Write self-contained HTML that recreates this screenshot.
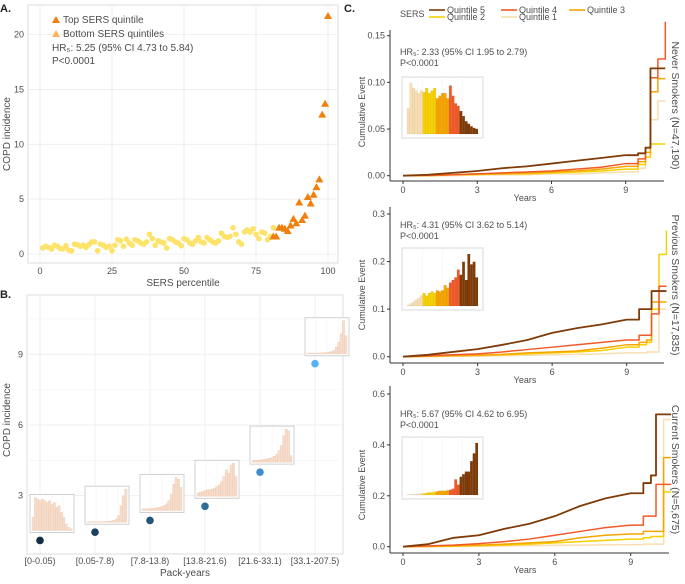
<!DOCTYPE html>
<html><head><meta charset="utf-8"><style>
body{margin:0;background:#fff;font-family:"Liberation Sans",Arial,sans-serif;}
svg text{font-family:"Liberation Sans",Arial,sans-serif;}
</style></head><body>
<svg id="fig" width="685" height="579" viewBox="0 0 685 579" xmlns="http://www.w3.org/2000/svg">
<rect width="685" height="579" fill="#fff"/>
<text x="0" y="12" font-size="11" font-weight="bold" fill="#222">A.</text>
<text x="0" y="298" font-size="11" font-weight="bold" fill="#222">B.</text>
<text x="344" y="12" font-size="11" font-weight="bold" fill="#222">C.</text>
<g id="pa"></g>
<g id="pb"></g>
<g id="pc"></g>
</svg>
<script>
// ---------- Panel A data ----------
const aBottom = [0.55,0.7,0.6,0.45,0.8,0.7,0.5,0.45,0.75,0.35,0.3,0.9,0.85,0.7,0.8,0.6,0.85,1.1,1.1,0.3,0.9,0.8,0.6,0.7,0.3,0.8,1.3,1.2,0.7,1.35,1.0,0.8,1.3,1.2,1.0,0.9,1.1,1.8,1.4,0.8,1.2,1.1,1.0,0.55,1.4,1.3,1.1,1.0,0.75,1.4,1.3,1.0,0.9,1.2,1.5,1.1,1.0,1.5,1.3,1.1,1.0,1.2,1.9,1.6,1.5,1.6,2.4,1.8,1.1,0.9,2.0,2.2,2.0,2.3,1.8,1.4,2.0,1.9,1.3,1.6,2.4];
const aTop = [1.6,1.6,2.4,2.4,2.3,2.1,2.6,3.2,2.8,4.7,3.1,3.5,5.2,4.6,5.4,6.1,6.8,12.7,13.7,21.7];
const aYTicks=[0,5,10,15,20];
const aXTicks=[0,25,50,75,100];
// ---------- Panel B data ----------
const bCats=["[0-0.05)","[0.05-7.8)","[7.8-13.8)","[13.8-21.6)","[21.6-33.1)","[33.1-207.5)"];
const bVals=[1.1,1.45,1.95,2.55,4.0,8.6];
const bColors=["#132b43","#1d3f5f","#255577","#2f6c99","#3f8fd0","#56b1f7"];
const bYTicks=[3,6,9];
const bHist=[
 [0.4,1,0.95,0.9,0.95,0.9,0.85,0.9,0.8,0.85,0.7,0.75,0.55,0.4,0.2,0.1,0.05],
 [0.02,0.02,0.02,0.02,0.02,0.02,0.02,0.02,0.03,0.03,0.04,0.06,0.1,0.2,0.5,0.8,1],
 [0.05,0.05,0.05,0.06,0.06,0.07,0.08,0.1,0.12,0.15,0.2,0.3,0.5,0.8,1,0.95,0.7],
 [0.1,0.12,0.15,0.18,0.2,0.2,0.22,0.25,0.3,0.35,0.45,0.6,0.8,0.7,0.95,1,0.6],
 [0.05,0.06,0.06,0.07,0.08,0.09,0.1,0.12,0.14,0.18,0.24,0.35,0.5,0.8,1,0.95,0.2],
 [0.02,0.02,0.02,0.02,0.02,0.02,0.03,0.03,0.04,0.05,0.07,0.1,0.2,0.35,0.6,1,0.55]
];
// ---------- Panel C data ----------
const cTimes=[0,1,2,3,4,5,6,7,8,9,9.5,9.8,10,10.3,10.6];
const cNames=["Quintile 5","Quintile 4","Quintile 3","Quintile 2","Quintile 1"];
const cColors=["#7f3b08","#f05a28","#f5a400","#f7d000","#f8deb0"];
const cNever=[
 [0,0.001,0.003,0.005,0.008,0.010,0.013,0.016,0.019,0.022,0.024,0.03,0.115,0.115,0.115],
 [0,0.0005,0.001,0.002,0.003,0.004,0.005,0.007,0.009,0.013,0.018,0.03,0.105,0.125,0.165],
 [0,0,0.001,0.002,0.002,0.003,0.004,0.005,0.007,0.010,0.015,0.025,0.09,0.104,0.104],
 [0,0,0.001,0.001,0.002,0.002,0.003,0.004,0.005,0.007,0.012,0.02,0.034,0.034,0.034],
 [0,0,0,0.001,0.001,0.001,0.002,0.002,0.003,0.004,0.008,0.02,0.06,0.08,0.08]];
const cPrev=[
 [0,0.004,0.010,0.016,0.025,0.035,0.050,0.060,0.068,0.078,0.10,0.10,0.138,0.138,0.138],
 [0,0.002,0.004,0.006,0.010,0.015,0.020,0.025,0.030,0.035,0.045,0.045,0.09,0.148,0.148],
 [0,0.001,0.002,0.003,0.005,0.008,0.010,0.012,0.018,0.025,0.030,0.035,0.115,0.115,0.115],
 [0,0.001,0.002,0.003,0.004,0.006,0.008,0.010,0.013,0.020,0.025,0.03,0.10,0.215,0.265],
 [0,0,0.001,0.001,0.002,0.003,0.004,0.005,0.006,0.008,0.008,0.01,0.01,0.10,0.10]];
const cCurr=[
 [0,0.01,0.035,0.045,0.07,0.09,0.12,0.16,0.19,0.21,0.25,0.28,0.52,0.52,0.52],
 [0,0.003,0.006,0.012,0.02,0.03,0.045,0.06,0.075,0.085,0.12,0.12,0.245,0.245,0.245],
 [0,0.002,0.004,0.006,0.01,0.015,0.02,0.035,0.045,0.05,0.06,0.06,0.06,0.35,0.35],
 [0,0.001,0.002,0.004,0.006,0.01,0.015,0.02,0.025,0.03,0.035,0.04,0.04,0.215,0.215],
 [0,0,0.001,0.002,0.003,0.004,0.005,0.006,0.007,0.008,0.01,0.01,0.01,0.5,0.5]];
const insetNever=[0.5,1,0.9,0.85,0.8,0.85,0.82,0.9,0.8,0.85,0.9,0.7,0.75,0.8,0.8,0.7,0.95,0.75,0.6,0.55,0.45,0.35,0.25,0.2,0.15,0.12,0.1];
const insetPrev=[0.02,0.05,0.08,0.12,0.15,0.2,0.25,0.2,0.25,0.28,0.25,0.3,0.28,0.3,0.4,0.35,0.45,0.5,0.55,0.7,0.6,0.85,0.5,1,0.8,0.85,0.55];
const insetCurr=[0.01,0.01,0.01,0.02,0.02,0.03,0.03,0.04,0.05,0.05,0.06,0.07,0.08,0.08,0.08,0.09,0.1,0.12,0.3,0.2,0.35,0.4,0.45,0.45,0.65,0.8,1];
const insetBinColor=[4,4,4,4,4,4,3,3,3,3,3,2,2,2,2,2,1,1,1,1,0,0,0,0,0,0,0];

const NS="http://www.w3.org/2000/svg";
function mk(parent,tag,attrs,text){const e=document.createElementNS(NS,tag);for(const k in attrs)e.setAttribute(k,attrs[k]);if(text!==undefined)e.textContent=text;parent.appendChild(e);return e;}

// ===== Panel A =====
(function(){
 const g=document.getElementById('pa');
 const X=v=>40+v*2.88, Y=v=>254-v*10.97;
 mk(g,'rect',{x:28,y:5,width:310,height:258,fill:'#fff',stroke:'#dcdcdc','stroke-width':1});
 for(const t of aYTicks){mk(g,'line',{x1:28,x2:338,y1:Y(t),y2:Y(t),stroke:'#ebebeb','stroke-width':0.8});
  const tl=mk(g,'text',{x:24,y:Y(t)+3,'font-size':9,fill:'#4d4d4d','text-anchor':'end'},String(t));
  }
 for(const t of aXTicks){mk(g,'line',{x1:X(t),x2:X(t),y1:5,y2:263,stroke:'#ebebeb','stroke-width':0.8});
  const tl=mk(g,'text',{x:X(t),y:274,'font-size':9,fill:'#4d4d4d','text-anchor':'middle'},String(t));
  }
 aBottom.forEach((v,i)=>{const c=mk(g,'circle',{cx:X(i+1),cy:Y(v),r:2.8,fill:'#fde36a'});
  });
 aTop.forEach((v,i)=>{const x=X(i+81),y=Y(v);const p=mk(g,'polygon',{points:`${x},${y-4} ${x-4},${y+3} ${x+4},${y+3}`,fill:'#f07f0c'});
  });
 const l1=mk(g,'polygon',{points:'56,16 52,23 60,23',fill:'#f07f0c'});
 const l2=mk(g,'polygon',{points:'56,30 52,37 60,37',fill:'#fbb45c'});
 const t1=mk(g,'text',{x:63,y:23,'font-size':10,fill:'#4d4d4d'},'Top SERS quintile');
 const t2=mk(g,'text',{x:63,y:37,'font-size':10,fill:'#4d4d4d'},'Bottom SERS quintiles');
 const t3=mk(g,'text',{x:52,y:51,'font-size':10,fill:'#4d4d4d'},'HR₅: 5.25 (95% CI 4.73 to 5.84)');
 const t4=mk(g,'text',{x:52,y:64,'font-size':10,fill:'#4d4d4d'},'P<0.0001');
 const xt=mk(g,'text',{x:183,y:286,'font-size':10,fill:'#4d4d4d','text-anchor':'middle'},'SERS percentile');
 const yt=mk(g,'text',{x:0,y:0,'font-size':10,fill:'#4d4d4d','text-anchor':'middle',transform:'translate(10,134) rotate(-90)'},'COPD incidence');
})();

// ===== Panel B =====
(function(){
 const g=document.getElementById('pb');
 const X=i=>40+i*55, Y=v=>495.7-(v-3)*23.57;
 mk(g,'rect',{x:27,y:295,width:316,height:259,fill:'#fff',stroke:'#dcdcdc','stroke-width':1});
 for(const t of bYTicks){mk(g,'line',{x1:27,x2:343,y1:Y(t),y2:Y(t),stroke:'#ebebeb','stroke-width':0.8});
  mk(g,'line',{x1:27,x2:343,y1:Y(t+1.5),y2:Y(t+1.5),stroke:'#f3f3f3','stroke-width':0.6});
  const tl=mk(g,'text',{x:23,y:Y(t)+3,'font-size':9,fill:'#4d4d4d','text-anchor':'end'},String(t));
  }
 bCats.forEach((c,i)=>{mk(g,'line',{x1:X(i),x2:X(i),y1:295,y2:554,stroke:'#ebebeb','stroke-width':0.8});
  const tl=mk(g,'text',{x:X(i),y:564,'font-size':9,fill:'#4d4d4d','text-anchor':'middle'},c);
  });
 bVals.forEach((v,i)=>{
  const cx=X(i),cy=Y(v);
  const bx=cx-10,by=cy-46,bw=44,bh=38;
  const box=mk(g,'rect',{x:bx,y:by,width:bw,height:bh,fill:'#fff',stroke:'#d0d0d0','stroke-width':1});
  
  for(let k=1;k<4;k++){mk(g,'line',{x1:bx+k*bw/4,x2:bx+k*bw/4,y1:by,y2:by+bh,stroke:'#f0f0f0','stroke-width':0.5});}
  const h=bHist[i],n=h.length,w=(bw-4)/n;
  h.forEach((hv,j)=>{const r=mk(g,'rect',{x:bx+2+j*w,y:by+bh-2-hv*(bh-5),width:w,height:hv*(bh-5),fill:'#f5dccb',stroke:'#eec3a8','stroke-width':0.3});
   });
  const p=mk(g,'circle',{cx:cx,cy:cy,r:3.8,fill:bColors[i]});
  
 });
 const xt=mk(g,'text',{x:185,y:576,'font-size':10,fill:'#4d4d4d','text-anchor':'middle'},'Pack-years');
 const yt=mk(g,'text',{x:0,y:0,'font-size':10,fill:'#4d4d4d','text-anchor':'middle',transform:'translate(10,420) rotate(-90)'},'COPD incidence');
})();

// ===== Panel C =====
(function(){
 const g=document.getElementById('pc');
 const lt=mk(g,'text',{x:400,y:17,'font-size':9,fill:'#4d4d4d'},'SERS');
 const legPos=[[429,10],[501,10],[569,10],[429,17],[501,17]];
 cNames.forEach((n,i)=>{const [lx,ly]=legPos[i];
  const ln=mk(g,'line',{x1:lx,x2:lx+16,y1:ly,y2:ly,stroke:cColors[i],'stroke-width':1.6});
  const t=mk(g,'text',{x:lx+18,y:ly+3,'font-size':9,fill:'#4d4d4d'},n);});

 const panels=[
  {data:cNever,inset:insetNever,y0:175.7,yTop:35.7,vTop:0.15,ticks:[0,0.05,0.10,0.15],fmt:2,top:30,bottom:181,x9:625.7,hr:'HR₅: 2.33 (95% CI 1.95 to 2.79)',hrY:55,ins:[402,77,81,61],strip:'Never Smokers (N=47,190)',yl:102},
  {data:cPrev,inset:insetPrev,y0:356.7,yTop:214,vTop:0.3,ticks:[0,0.1,0.2,0.3],fmt:1,top:207,bottom:363,x9:626.7,hr:'HR₅: 4.31 (95% CI 3.62 to 5.14)',hrY:228,ins:[402,248,81,62],strip:'Previous Smokers (N=17,835)',yl:285},
  {data:cCurr,inset:insetCurr,y0:546.7,yTop:394,vTop:0.6,ticks:[0,0.2,0.4,0.6],fmt:1,top:386,bottom:553,x9:630.7,hr:'HR₅: 5.67 (95% CI 4.62 to 6.95)',hrY:417,ins:[402,437,81,62],strip:'Current Smokers (N=5,675)',yl:475}
 ];
 panels.forEach((P,pi)=>{
  const X=t=>403+t*(P.x9-403)/9, Y=v=>P.y0-v*(P.y0-P.yTop)/P.vTop;
  const right=pi==2?669:664;
  mk(g,'line',{x1:390,x2:390,y1:P.top,y2:P.bottom,stroke:'#333','stroke-width':1});
  mk(g,'line',{x1:390,x2:right,y1:P.bottom,y2:P.bottom,stroke:'#333','stroke-width':1});
  P.ticks.forEach(t=>{mk(g,'line',{x1:387,x2:390,y1:Y(t),y2:Y(t),stroke:'#333'});
   const tl=mk(g,'text',{x:385,y:Y(t)+3,'font-size':9,fill:'#4d4d4d','text-anchor':'end'},t.toFixed(P.fmt));
   });
  [0,3,6,9].forEach(t=>{mk(g,'line',{x1:X(t),x2:X(t),y1:P.bottom,y2:P.bottom+3,stroke:'#333'});
   const tl=mk(g,'text',{x:X(t),y:P.bottom+12,'font-size':9,fill:'#4d4d4d','text-anchor':'middle'},String(t));
   });
  const xt=mk(g,'text',{x:525,y:P.bottom+20,'font-size':9,fill:'#4d4d4d','text-anchor':'middle'},'Years');
  const yt=mk(g,'text',{x:0,y:0,'font-size':9,fill:'#4d4d4d','text-anchor':'middle',transform:`translate(365,${P.yl+10}) rotate(-90)`},'Cumulative Event');
  const st=mk(g,'text',{x:0,y:0,'font-size':10.5,fill:'#4d4d4d','text-anchor':'middle',transform:`translate(672,${(P.top+P.bottom)/2}) rotate(90)`},P.strip);
  const h1=mk(g,'text',{x:400,y:P.hrY,'font-size':9,fill:'#4d4d4d'},P.hr);
  const h2=mk(g,'text',{x:400,y:P.hrY+11,'font-size':9,fill:'#4d4d4d'},'P<0.0001');
  const [ix,iy,iw,ih]=P.ins;
  const ib=mk(g,'rect',{x:ix,y:iy,width:iw,height:ih,fill:'#fff',stroke:'#d8d8d8','stroke-width':1});
  
  for(let k=1;k<4;k++){mk(g,'line',{x1:ix+k*iw/4,x2:ix+k*iw/4,y1:iy,y2:iy+ih,stroke:'#f0f0f0','stroke-width':0.5});}
  const n=P.inset.length,bw=(iw-10)/n;
  P.inset.forEach((v,j)=>{const r=mk(g,'rect',{x:ix+5+j*bw,y:iy+ih-4-v*(ih-10),width:bw,height:v*(ih-10),fill:cColors[insetBinColor[j]],stroke:'#00000022','stroke-width':0.3});
   });
  for(let q=4;q>=0;q--){
   const vals=P.data[q];let d=`M${X(cTimes[0])},${Y(vals[0])}`;
   for(let k=1;k<cTimes.length;k++){
    if(cTimes[k]-cTimes[k-1]>=1) d+=` L${X(cTimes[k])},${Y(vals[k])}`;
    else d+=` H${X(cTimes[k])} V${Y(vals[k])}`;
   }
   const p=mk(g,'path',{d:d,fill:'none',stroke:cColors[q],'stroke-width':q==0?1.8:1.5,'stroke-linejoin':'round'});
   
   
  }
 });
})();
</script>
</body></html>
